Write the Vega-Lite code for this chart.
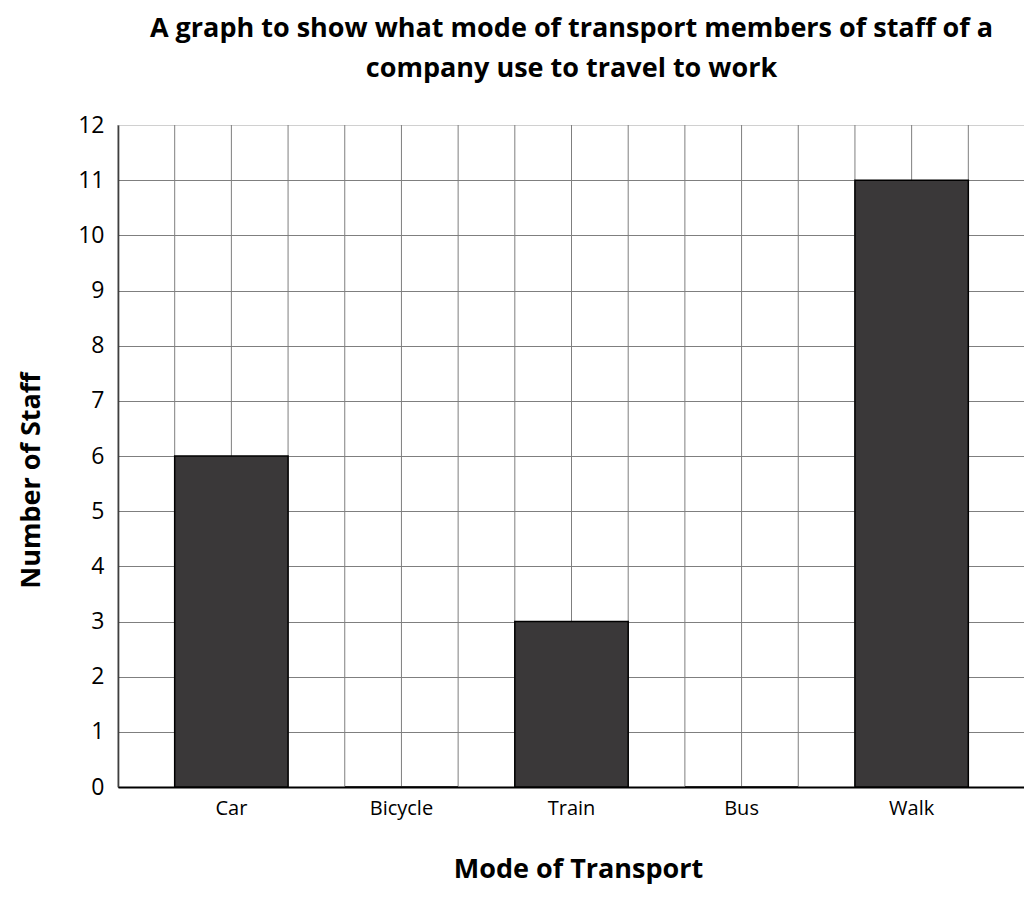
{
  "$schema": "https://vega.github.io/schema/vega-lite/v6.json",
  "autosize": {"type": "none"},
  "padding": {"left": 118, "top": 125, "right": 0, "bottom": 118},
  "width": 907,
  "height": 662,
  "background": "white",
  "title": {
    "text": ["A graph to show what mode of transport members of staff of a", "company use to travel to work"],
    "font": "Open Sans",
    "fontSize": 27,
    "fontWeight": "bold",
    "color": "black",
    "lineHeight": 40,
    "anchor": "middle",
    "offset": 31
  },
  "config": {
    "view": {"stroke": null},
    "font": "Open Sans"
  },
  "layer": [
    {
      "data": {"values": [
        {"g": 0}, {"g": 1}, {"g": 2}, {"g": 3}, {"g": 4}, {"g": 5}, {"g": 6}, {"g": 7}, {"g": 8},
        {"g": 9}, {"g": 10}, {"g": 11}, {"g": 12}, {"g": 13}, {"g": 14}, {"g": 15}, {"g": 16}
      ]},
      "mark": {"type": "rule", "color": "#7f7f7f", "strokeWidth": 1},
      "encoding": {
        "x": {"field": "g", "type": "quantitative", "axis": null, "scale": {"domain": [0, 16], "nice": false}}
      }
    },
    {
      "data": {"values": [
        {"mode": "Car", "staff": 6},
        {"mode": "Bicycle", "staff": 0},
        {"mode": "Train", "staff": 3},
        {"mode": "Bus", "staff": 0},
        {"mode": "Walk", "staff": 11}
      ]},
      "mark": {"type": "bar", "fill": "#3a3839", "stroke": "black", "strokeWidth": 1.5},
      "encoding": {
        "x": {
          "field": "mode", "type": "nominal", "sort": null,
          "scale": {"paddingInner": 0.3333, "paddingOuter": 0.3333},
          "axis": {
            "orient": "bottom",
            "title": "Mode of Transport",
            "titleFont": "Open Sans", "titleFontSize": 27, "titleFontWeight": "bold", "titleColor": "black",
            "titlePadding": 38,
            "titleX": 460,
            "labelFont": "Open Sans", "labelFontSize": 20, "labelColor": "black", "labelAngle": 0,
            "labelPadding": 11,
            "ticks": false,
            "domainColor": "black", "domainWidth": 2
          }
        },
        "y": {
          "field": "staff", "type": "quantitative",
          "scale": {"domain": [0, 12], "nice": false},
          "axis": {
            "title": "Number of Staff",
            "titleFont": "Open Sans", "titleFontSize": 27, "titleFontWeight": "bold", "titleColor": "black",
            "titlePadding": 32,
            "titleY": 355,
            "values": [0, 1, 2, 3, 4, 5, 6, 7, 8, 9, 10, 11, 12],
            "labelFont": "Open Sans", "labelFontSize": 23, "labelColor": "black",
            "labelPadding": 14,
            "ticks": false,
            "domainColor": "black", "domainWidth": 1.5,
            "grid": true,
            "gridColor": {"condition": {"test": "datum.value == 12", "value": "#d0d0d0"}, "value": "#7f7f7f"},
            "gridOpacity": 1
          }
        }
      }
    }
  ],
  "resolve": {"scale": {"x": "independent"}}
}
